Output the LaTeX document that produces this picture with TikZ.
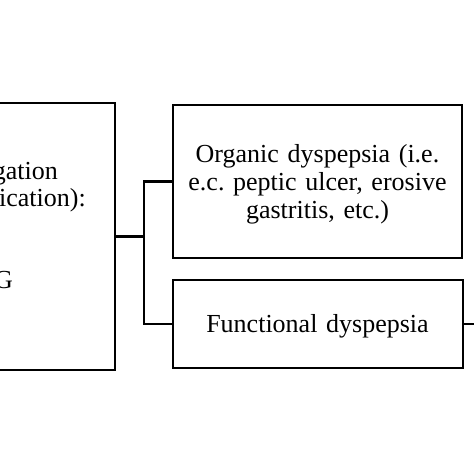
\documentclass[tikz,border=0pt]{standalone}
\usepackage{fontspec}
\setmainfont{Liberation Serif}
\begin{document}
\begin{tikzpicture}[x=1pt,y=-1pt,
  box/.style={draw=black,line width=2.9pt,inner sep=0pt},
  txt/.style={inner sep=0pt,align=center,text width=280pt,
    font=\fontsize{26}{28}\selectfont},
  frag/.style={inner sep=0pt,anchor=base east,font=\fontsize{26}{28}\selectfont},
  conn/.style={draw=black,line width=2.9pt}]
\useasboundingbox (0,0) rectangle (474,474);
\node[box,minimum width=160pt,minimum height=267pt] (left) at (35,236.5) {};
\node[frag] (l1) at (58,179) {gation};
\node[frag] (l2) at (86,206) {ication):};
\node[frag] (l3) at (13,288) {G};
\node[box,minimum width=289pt,minimum height=153pt] (organic) at (317.5,181.5) {};
\node[txt] (organictext) at (317.5,184)
  {Organic dyspepsia (i.e.\\ e.c.\ peptic ulcer, erosive\\ gastritis, etc.)};
\node[box,minimum width=290pt,minimum height=88pt] (func) at (318,324) {};
\node[txt] (functext) at (317.5,326) {Functional dyspepsia};
\coordinate (j) at (144,236.5);
\coordinate (r) at (480,324);
\draw[conn] (left.east) -- (j);
\draw[conn] (organic.west) -| (j) |- (func.west);
\draw[conn] (func.east) -- (r);
\end{tikzpicture}
\end{document}
